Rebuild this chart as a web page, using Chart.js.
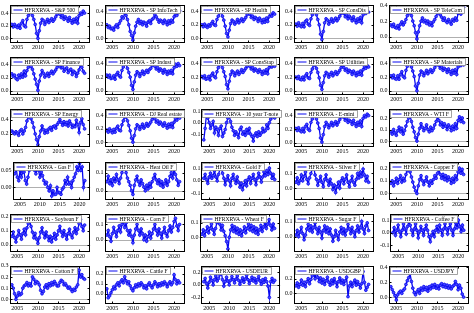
<!DOCTYPE html>
<html>
<head>
<meta charset="utf-8">
<script src="https://cdn.jsdelivr.net/npm/chart.js@4"></script>
<style>
  html, body { margin: 0; padding: 0; background: #fff; }
  #grid { position: relative; width: 474px; height: 313px; overflow: hidden; }
  #grid canvas { position: absolute; }
</style>
</head>
<body>
<div id="grid"></div>
<script>
// rolling correlation, one point every 4 months from mid 2003 to 2021
const firstYear = 2003.67;
const stepYears = 1 / 3;
const yearTicks = [2005, 2010, 2015, 2020];

const panelNames = [
    "S&P 500", "SP InfoTech", "SP Health", "SP ConsDis", "SP TeleCom",
    "SP Finance", "SP Indust", "SP ConsStap", "SP Utilities", "SP Materials",
    "SP Energy", "DJ Real estate", "10 year T-note", "E-mini", "WTI F",
    "Gas F", "Heat Oil F", "Gold F", "Silver F", "Copper F",
    "Soybean F", "Corn F", "Wheat F", "Sugar F", "Coffee F",
    "Cotton F", "Cattle F", "USDEUR", "USDGBP", "USDJPY"
];

const sp500 = [0.22, 0.18,0.22,0.19, 0.17,0.21,0.16, 0.24,0.28,0.20, 0.18,0.30,0.36, 0.40,0.43,0.36, 0.30,0.22,0.08, 0.00,0.12,0.24, 0.30,0.28,0.22, 0.26,0.30,0.25, 0.28,0.31,0.27, 0.30,0.34,0.38, 0.42,0.38,0.33, 0.36,0.30,0.34, 0.31,0.27,0.33, 0.28,0.24,0.30, 0.26,0.32,0.24, 0.36,0.40,0.38, 0.43,0.40];
const spInfoTech = [0.20, 0.16,0.18,0.14, 0.15,0.12,0.17, 0.20,0.16,0.22, 0.26,0.32,0.30, 0.38,0.34,0.28, 0.20,0.10,0.04, -0.03,0.08,0.18, 0.24,0.28,0.22, 0.25,0.20,0.24, 0.22,0.18,0.24, 0.26,0.22,0.28, 0.30,0.35,0.32, 0.28,0.24,0.27, 0.25,0.22,0.27, 0.24,0.20,0.26, 0.22,0.27,0.24, 0.32,0.35,0.34, 0.38,0.41];
const spHealth = [0.20, 0.17,0.21,0.18, 0.16,0.20,0.18, 0.22,0.25,0.20, 0.19,0.28,0.33, 0.38,0.40,0.33, 0.27,0.18,0.07, 0.02,0.12,0.22, 0.27,0.25,0.21, 0.24,0.28,0.23, 0.26,0.29,0.25, 0.28,0.31,0.35, 0.39,0.36,0.31, 0.33,0.28,0.31, 0.29,0.25,0.30, 0.27,0.23,0.28, 0.24,0.30,0.25, 0.32,0.36,0.33, 0.38,0.36];
const spConsDis = [0.21, 0.18,0.23,0.19, 0.17,0.22,0.17, 0.25,0.27,0.21, 0.19,0.29,0.35, 0.41,0.42,0.35, 0.28,0.20,0.06, -0.02,0.10,0.23, 0.29,0.27,0.21, 0.25,0.29,0.24, 0.27,0.30,0.26, 0.29,0.33,0.37, 0.41,0.37,0.32, 0.35,0.29,0.33, 0.30,0.26,0.32, 0.27,0.23,0.29, 0.25,0.31,0.23, 0.35,0.39,0.37, 0.42,0.39];
const spTeleCom = [0.15, 0.13,0.16,0.12, 0.11,0.14,0.10, 0.16,0.19,0.15, 0.18,0.22,0.27, 0.30,0.33,0.27, 0.20,0.14,0.05, -0.03,0.06,0.14, 0.20,0.24,0.19, 0.21,0.17,0.20, 0.15,0.18,0.14, 0.19,0.22,0.26, 0.30,0.33,0.28, 0.25,0.21,0.24, 0.20,0.18,0.22, 0.19,0.16,0.22, 0.20,0.24,0.21, 0.30,0.33,0.29, 0.35,0.38];
const spFinance = [0.26, 0.22,0.24,0.19, 0.17,0.24,0.20, 0.26,0.21,0.30, 0.23,0.31,0.36, 0.41,0.37,0.33, 0.26,0.18,0.10, 0.01,0.15,0.24, 0.31,0.27,0.21, 0.24,0.27,0.22, 0.27,0.30,0.26, 0.29,0.32,0.36, 0.40,0.38,0.35, 0.36,0.30,0.33, 0.35,0.28,0.31, 0.33,0.25,0.30, 0.28,0.22,0.27, 0.32,0.40,0.36, 0.30,0.27];
const spIndust = [0.23, 0.20,0.23,0.18, 0.19,0.22,0.17, 0.24,0.27,0.22, 0.20,0.30,0.35, 0.40,0.39,0.33, 0.27,0.20,0.08, 0.02,0.13,0.23, 0.28,0.26,0.21, 0.25,0.29,0.24, 0.27,0.30,0.27, 0.31,0.33,0.37, 0.40,0.36,0.32, 0.34,0.29,0.32, 0.30,0.26,0.31, 0.28,0.24,0.29, 0.26,0.30,0.25, 0.34,0.39,0.36, 0.40,0.37];
const spConsStap = [0.21, 0.19,0.22,0.17, 0.18,0.21,0.16, 0.23,0.26,0.21, 0.19,0.28,0.34, 0.38,0.40,0.34, 0.28,0.21,0.09, 0.03,0.14,0.24, 0.29,0.27,0.22, 0.26,0.29,0.24, 0.27,0.31,0.27, 0.30,0.33,0.36, 0.39,0.36,0.32, 0.34,0.29,0.32, 0.30,0.27,0.31, 0.28,0.24,0.29, 0.26,0.31,0.25, 0.34,0.37,0.35, 0.39,0.36];
const spUtilities = [0.20, 0.18,0.21,0.17, 0.16,0.20,0.16, 0.22,0.25,0.19, 0.18,0.27,0.32, 0.37,0.39,0.33, 0.27,0.19,0.08, 0.02,0.12,0.22, 0.27,0.25,0.20, 0.24,0.27,0.22, 0.25,0.28,0.24, 0.27,0.30,0.34, 0.37,0.34,0.30, 0.32,0.27,0.30, 0.28,0.24,0.29, 0.26,0.22,0.27, 0.24,0.29,0.23, 0.31,0.35,0.33, 0.37,0.35];
const spMaterials = [0.22, 0.19,0.23,0.18, 0.17,0.22,0.17, 0.24,0.28,0.21, 0.19,0.30,0.36, 0.41,0.42,0.35, 0.29,0.21,0.07, 0.00,0.11,0.23, 0.29,0.27,0.22, 0.26,0.30,0.25, 0.28,0.31,0.27, 0.30,0.34,0.38, 0.41,0.37,0.33, 0.35,0.30,0.33, 0.31,0.27,0.32, 0.28,0.24,0.30, 0.26,0.31,0.24, 0.35,0.39,0.37, 0.41,0.38];
const spEnergy = [0.24, 0.22,0.20,0.23, 0.21,0.18,0.24, 0.26,0.20,0.24, 0.29,0.38,0.43, 0.46,0.41,0.36, 0.29,0.20,0.12, 0.05,0.16,0.24, 0.31,0.26,0.21, 0.25,0.22,0.27, 0.29,0.25,0.30, 0.31,0.28,0.33, 0.36,0.40,0.36, 0.32,0.37,0.33, 0.36,0.31,0.38, 0.34,0.29,0.32, 0.30,0.39,0.33, 0.22,0.36,0.41, 0.33,0.27];
const djRealEstate = [0.18, 0.15,0.20,0.17, 0.14,0.19,0.15, 0.21,0.24,0.18, 0.17,0.26,0.32, 0.37,0.39,0.32, 0.25,0.17,0.06, 0.00,0.10,0.20, 0.26,0.24,0.19, 0.23,0.27,0.21, 0.24,0.28,0.24, 0.27,0.30,0.34, 0.38,0.35,0.30, 0.32,0.27,0.30, 0.27,0.24,0.29, 0.25,0.21,0.27, 0.23,0.28,0.22, 0.30,0.35,0.33, 0.38,0.36];
const tNote10y = [-0.15, -0.05,0.07,0.04, 0.00,-0.05,-0.02, 0.01,-0.09,-0.04, -0.06,-0.11,-0.05, -0.03,-0.12,-0.09, -0.06,0.00,0.04, 0.06,0.01,-0.04, -0.07,-0.11,-0.08, -0.10,-0.13,-0.06, -0.04,-0.10,-0.08, -0.11,-0.06,-0.09, -0.05,-0.10,-0.12, -0.16,-0.11,-0.09, -0.12,-0.08,-0.11, -0.09,-0.05,-0.08, -0.07,-0.02,-0.05, 0.00,0.03,0.05, 0.07,0.04];
const eMini = [0.21, 0.18,0.22,0.18, 0.16,0.21,0.16, 0.24,0.27,0.20, 0.18,0.30,0.35, 0.40,0.42,0.35, 0.29,0.21,0.07, 0.01,0.12,0.24, 0.30,0.27,0.22, 0.26,0.30,0.25, 0.28,0.31,0.26, 0.30,0.34,0.38, 0.41,0.37,0.33, 0.36,0.30,0.33, 0.31,0.27,0.33, 0.28,0.24,0.30, 0.26,0.32,0.24, 0.36,0.40,0.38, 0.42,0.40];
const wtiF = [0.08, 0.06,0.10,0.07, 0.05,0.09,0.12, 0.08,0.11,0.06, 0.09,0.13,0.17, 0.20,0.22,0.17, 0.12,0.08,0.03, 0.00,0.06,0.11, 0.15,0.12,0.09, 0.11,0.14,0.10, 0.08,0.12,0.09, 0.11,0.14,0.17, 0.21,0.18,0.14, 0.16,0.12,0.15, 0.13,0.10,0.14, 0.12,0.09,0.13, 0.10,0.15,0.11, 0.18,0.21,0.17, 0.20,0.16];
const gasF = [0.04, 0.06,0.03,0.02, 0.05,0.03,0.045, 0.045,0.02,0.01, 0.03,0.05,0.06, 0.07,0.06,0.05, 0.04,0.055,0.05, 0.03,0.045,0.035, 0.02,0.01,0.015, 0.00,-0.01,0.005, -0.025,-0.01,-0.02, -0.02,0.00,-0.015, -0.015,-0.02,-0.005, 0.00,0.02,0.01, 0.03,0.01,0.015, 0.00,0.02,0.03, 0.04,0.06,0.05, 0.07,0.05,0.06, 0.00,0.02];
const heatOilF = [0.05, 0.08,0.04,0.06, 0.03,0.07,0.05, 0.09,0.06,0.04, 0.07,0.10,0.12, 0.13,0.10,0.07, 0.05,0.03,0.00, -0.02,0.03,0.06, 0.08,0.05,0.03, 0.06,0.04,0.02, 0.00,0.03,0.01, 0.04,0.02,0.05, 0.07,0.09,0.06, 0.04,0.06,0.03, 0.05,0.02,0.04, 0.06,0.03,0.05, 0.08,0.10,0.07, 0.12,0.09,0.06, 0.03,0.05];
const goldF = [0.02, 0.05,0.01,-0.02, 0.03,0.06,0.02, 0.04,0.08,0.03, 0.00,0.05,0.09, 0.11,0.06,0.02, -0.03,0.01,0.04, 0.00,-0.04,0.02, 0.05,0.01,-0.02, 0.03,-0.01,-0.05, -0.02,-0.07,-0.03, 0.00,-0.04,0.01, 0.03,-0.02,0.02, 0.05,0.01,-0.03, 0.02,0.06,0.03, -0.01,0.03,0.07, 0.04,0.08,0.05, 0.10,0.06,0.02, 0.05,0.01];
const silverF = [0.04, 0.07,0.03,0.05, 0.09,0.05,0.08, 0.11,0.06,0.03, 0.07,0.10,0.13, 0.15,0.09,0.06, 0.02,0.05,0.08, 0.04,0.01,0.06, 0.09,0.05,0.02, 0.06,0.03,-0.01, 0.02,-0.03,0.01, 0.04,0.00,0.05, 0.07,0.03,0.06, 0.09,0.04,0.01, 0.05,0.08,0.04, 0.02,0.06,0.10, 0.07,0.11,0.08, 0.13,0.09,0.05, 0.08,0.04];
const copperF = [0.08, 0.10,0.06,0.09, 0.12,0.08,0.11, 0.14,0.09,0.12, 0.10,0.15,0.18, 0.21,0.17,0.13, 0.09,0.05,0.02, 0.00,0.06,0.11, 0.14,0.10,0.07, 0.10,0.13,0.09, 0.06,0.10,0.08, 0.11,0.14,0.12, 0.16,0.19,0.15, 0.12,0.15,0.11, 0.14,0.10,0.13, 0.11,0.08,0.12, 0.09,0.14,0.11, 0.17,0.20,0.16, 0.19,0.15];
const soybeanF = [0.06, 0.09,0.05,0.02, 0.06,0.10,0.07, 0.04,0.08,0.11, 0.07,0.12,0.15, 0.17,0.13,0.09, 0.05,0.08,0.04, 0.01,0.05,0.09, 0.12,0.08,0.05, 0.09,0.06,0.03, 0.06,0.02,0.05, 0.08,0.04,0.07, 0.10,0.13,0.09, 0.06,0.10,0.07, 0.04,0.08,0.11, 0.07,0.05,0.09, 0.12,0.08,0.11, 0.15,0.18,0.13, 0.10,0.14];
const cornF = [0.03, 0.06,0.02,-0.01, 0.04,0.08,0.05, 0.02,0.06,0.09, 0.05,0.10,0.12, 0.08,0.11,0.06, 0.03,0.06,0.02, -0.02,0.03,0.07, 0.10,0.06,0.03, 0.07,0.04,0.00, 0.03,-0.01,0.02, 0.05,0.01,0.04, 0.07,0.10,0.06, 0.03,0.07,0.04, 0.01,0.05,0.08, 0.04,0.02,0.06, 0.09,0.05,0.08, 0.12,0.14,0.09, 0.06,0.10];
const wheatF = [0.02, 0.05,0.01,0.04, 0.07,0.03,0.06, 0.09,0.05,0.02, 0.06,0.10,0.12, 0.09,0.05,0.08, 0.04,0.01,-0.03, -0.08,0.00,0.05, 0.08,0.04,0.07, 0.03,0.06,0.02, 0.05,0.01,0.04, 0.07,0.03,0.06, 0.09,0.05,0.08, 0.04,0.07,0.03, 0.06,0.02,0.05, 0.08,0.04,0.07, 0.10,0.06,0.09, 0.12,0.08,0.05, 0.09,0.06];
const sugarF = [0.01, 0.04,0.00,0.03, 0.06,0.02,-0.02, 0.01,0.05,0.08, 0.04,0.07,0.03, 0.06,0.09,0.05, 0.02,0.06,0.03, -0.01,0.04,0.07, 0.03,0.06,0.02, 0.05,0.01,-0.03, 0.00,0.04,0.01, -0.02,0.03,0.06, 0.02,0.05,0.01, 0.04,0.08,0.05, 0.02,0.06,0.03, 0.00,0.04,0.07, 0.03,0.06,0.10, 0.05,0.02,0.07, 0.09,0.04];
const coffeeF = [0.00, 0.04,-0.02,0.02, 0.06,0.01,-0.03, 0.02,0.07,0.03, -0.01,0.05,0.09, 0.06,0.02,-0.02, 0.03,0.07,0.02, -0.04,0.01,0.05, 0.02,-0.02,0.03, 0.06,0.02,-0.03, -0.07,-0.02,0.01, -0.03,0.02,0.05, 0.01,0.06,0.02, -0.02,0.03,0.07, 0.03,-0.01,0.04, 0.07,0.02,-0.02, 0.03,0.08,0.04, 0.10,0.05,0.01, 0.06,0.02];
const cottonF = [0.13, 0.10,0.05,0.00, 0.03,0.06,0.04, 0.05,0.10,0.12, 0.13,0.15,0.12, 0.14,0.12,0.20, 0.18,0.14,0.16, 0.15,0.13,0.08, 0.05,0.07,0.11, 0.13,0.10,0.14, 0.12,0.15,0.13, 0.16,0.14,0.12, 0.12,0.15,0.17, 0.16,0.13,0.14, 0.12,0.10,0.11, 0.09,0.07,0.09, 0.08,0.11,0.13, 0.26,0.20,0.22, 0.19,0.18];
const cattleF = [0.05, -0.04,-0.02,0.01, 0.04,0.07,0.05, 0.09,0.11,0.08, 0.12,0.14,0.11, 0.17,0.13,0.10, 0.12,0.08,0.05, 0.03,0.06,0.09, 0.07,0.10,0.08, 0.11,0.09,0.06, 0.08,0.05,0.09, 0.11,0.08,0.06, 0.09,0.12,0.10, 0.07,0.10,0.08, 0.11,0.09,0.12, 0.10,0.07,0.10, 0.12,0.09,0.11, 0.19,0.14,0.10, 0.13,0.11];
const usdEur = [0.05, 0.10,0.02,-0.05, 0.04,0.12,0.07, 0.00,0.08,0.14, 0.06,0.10,0.16, 0.20,0.08,-0.02, 0.05,0.12,0.06, 0.00,0.07,0.13, 0.08,0.03,0.09, 0.14,0.07,0.01, 0.06,0.11,0.04, 0.09,0.15,0.08, 0.02,0.07,0.12, 0.06,0.10,0.03, 0.08,0.13,0.06, 0.01,0.08,0.04, 0.10,0.05,-0.02, -0.20,0.05,0.10, 0.04,0.07];
const usdGbp = [0.10, 0.14,0.08,0.12, 0.18,0.11,0.15, 0.09,0.16,0.20, 0.13,0.19,0.24, 0.28,0.20,0.30, 0.22,0.16,0.21, 0.14,0.19,0.12, 0.17,0.22,0.15, 0.11,0.18,0.13, 0.20,0.15,0.09, 0.16,0.21,0.14, 0.18,0.12,0.17, 0.22,-0.05,0.10, 0.15,0.09,0.14, 0.18,0.11,0.16, 0.12,0.07,0.13, 0.30,0.15,0.04, 0.08,0.12];
const usdJpy = [0.14, 0.10,0.06,0.02, -0.04,0.03,0.06, 0.08,0.05,0.09, 0.11,0.17,0.22, 0.26,0.31,0.21, 0.12,0.06,0.03, 0.07,0.10,0.05, 0.12,0.09,0.14, 0.10,0.13,0.08, 0.14,0.11,0.16, 0.13,0.17,0.12, 0.15,0.11,0.16, 0.18,0.14,0.17, 0.13,0.16,0.12, 0.15,0.11,0.14, 0.16,0.21,0.17, 0.10,0.16,0.12, 0.04,0.00];

const panelSeries = [
    sp500, spInfoTech, spHealth, spConsDis, spTeleCom,
    spFinance, spIndust, spConsStap, spUtilities, spMaterials,
    spEnergy, djRealEstate, tNote10y, eMini, wtiF,
    gasF, heatOilF, goldF, silverF, copperF,
    soybeanF, cornF, wheatF, sugarF, coffeeF,
    cottonF, cattleF, usdEur, usdGbp, usdJpy
];

// y axis range, ticks and decimals of each panel
const panelMin = [-0.07, -0.07, -0.07, -0.07, -0.08, -0.06, -0.06, -0.06, -0.06, -0.06, 0.02, -0.07, -0.21, -0.06, -0.05, -0.036, -0.05, -0.15, -0.08, -0.05, -0.05, -0.08, -0.1, -0.1, -0.15, -0.04, -0.1, -0.3, -0.15, -0.09];
const panelMax = [0.53, 0.5, 0.5, 0.5, 0.41, 0.52, 0.5, 0.5, 0.5, 0.5, 0.55, 0.5, 0.12, 0.5, 0.28, 0.075, 0.16, 0.15, 0.18, 0.25, 0.22, 0.17, 0.16, 0.15, 0.15, 0.3, 0.28, 0.3, 0.38, 0.42];
const panelTicks = [
    [0, 0.2, 0.4], [0, 0.2, 0.4], [0, 0.2, 0.4], [0, 0.2, 0.4], [0, 0.2, 0.4],
    [0, 0.2, 0.4], [0, 0.2, 0.4], [0, 0.2, 0.4], [0, 0.2, 0.4], [0, 0.2, 0.4],
    [0.2, 0.4], [0, 0.2, 0.4], [-0.1, 0, 0.1], [0, 0.2, 0.4], [0, 0.1, 0.2],
    [0, 0.05], [0, 0.1], [-0.1, 0, 0.1], [0, 0.1], [0, 0.1, 0.2],
    [0, 0.1, 0.2], [0, 0.1], [0, 0.1], [0, 0.1], [-0.1, 0, 0.1],
    [0, 0.1, 0.2, 0.3], [0, 0.1, 0.2], [-0.2, 0, 0.2], [0, 0.2], [0, 0.2, 0.4]
];
const panelDecimals = [1,1,1,1,1, 1,1,1,1,1, 1,1,1,1,1, 2,1,1,1,1, 1,1,1,1,1, 1,1,1,1,1];

const lineBlue = "#0808f0";
const tickFont = { family: "'Liberation Serif', 'DejaVu Serif', serif", size: 6 };

const panelFrame = {
    id: "panelFrame",
    beforeDatasetsDraw(chart) {
        const { ctx, chartArea: a, scales } = chart;
        const y0 = scales.y.getPixelForValue(0);
        if (y0 > a.top && y0 < a.bottom) {
            ctx.save();
            ctx.strokeStyle = "#9a9a9a";
            ctx.lineWidth = 0.8;
            ctx.beginPath();
            ctx.moveTo(a.left, Math.round(y0) + 0.5);
            ctx.lineTo(a.right, Math.round(y0) + 0.5);
            ctx.stroke();
            ctx.restore();
        }
    },
    afterDraw(chart) {
        const { ctx, chartArea: a, scales } = chart;
        ctx.save();
        ctx.strokeStyle = "#000";
        ctx.lineWidth = 1;
        const l = Math.round(a.left) + 0.5, t = Math.round(a.top) + 0.5;
        const r = Math.round(a.right) - 0.5, b = Math.round(a.bottom) - 0.5;
        ctx.strokeRect(l, t, r - l, b - t);
        ctx.beginPath();
        scales.x.ticks.forEach(tk => {
            const px = Math.round(scales.x.getPixelForValue(tk.value)) + 0.5;
            ctx.moveTo(px, b); ctx.lineTo(px, b - 2);
            ctx.moveTo(px, t); ctx.lineTo(px, t + 2);
        });
        scales.y.ticks.forEach(tk => {
            const py = Math.round(scales.y.getPixelForValue(tk.value)) + 0.5;
            ctx.moveTo(l, py); ctx.lineTo(l + 2, py);
            ctx.moveTo(r, py); ctx.lineTo(r - 2, py);
        });
        ctx.stroke();

        // legend box in the upper left corner
        const text = chart.data.datasets[0].label;
        ctx.font = "5.6px 'Liberation Serif', 'DejaVu Serif', serif";
        const tw = ctx.measureText(text).width;
        const lx = l + 1, ly = t + 1, w = Math.round(tw + 16), h = 7;
        ctx.fillStyle = "#fff";
        ctx.fillRect(lx, ly, w, h);
        ctx.strokeStyle = "#8c8c8c";
        ctx.lineWidth = 0.8;
        ctx.strokeRect(lx, ly, w, h);
        ctx.strokeStyle = lineBlue;
        ctx.lineWidth = 1;
        ctx.beginPath();
        ctx.moveTo(lx + 2, ly + h / 2);
        ctx.lineTo(lx + 11, ly + h / 2);
        ctx.stroke();
        ctx.fillStyle = "#000";
        ctx.textBaseline = "middle";
        ctx.fillText(text, lx + 13, ly + h / 2 + 0.3);
        ctx.restore();
    }
};

const grid = document.getElementById("grid");

panelNames.forEach((name, k) => {
    const col = k % 5;
    const row = Math.floor(k / 5);
    const canvas = document.createElement("canvas");
    canvas.width = 95;
    canvas.height = 52;
    canvas.style.left = Math.round(col * 94.8) + "px";
    canvas.style.top = Math.round(row * 52.17) + "px";
    grid.appendChild(canvas);

    const values = panelSeries[k];
    const points = values.map((v, i) => ({ x: firstYear + i * stepYears, y: v }));

    new Chart(canvas, {
        type: "line",
        data: {
            datasets: [{
                label: "HFRXRVA - " + name,
                data: points,
                borderColor: lineBlue,
                borderWidth: 1.3,
                pointRadius: 1.4,
                pointBorderWidth: 0.8,
                pointBorderColor: lineBlue,
                pointBackgroundColor: "#4a4aff",
                tension: 0
            }]
        },
        options: {
            responsive: false,
            animation: false,
            devicePixelRatio: 1,
            layout: { padding: { top: 1, right: 2, left: 0, bottom: 0 } },
            plugins: {
                legend: { display: false },
                tooltip: { enabled: false }
            },
            scales: {
                x: {
                    type: "linear",
                    min: 2003.1,
                    max: 2022.7,
                    afterBuildTicks: s => { s.ticks = yearTicks.map(v => ({ value: v })); },
                    afterFit: s => { s.paddingLeft = 0; s.paddingRight = 0; },
                    ticks: {
                        callback: v => String(v),
                        font: tickFont,
                        color: "#000",
                        padding: 1,
                        maxRotation: 0,
                        autoSkip: false
                    },
                    grid: { display: false, drawTicks: false, tickLength: 0 },
                    border: { display: false }
                },
                y: {
                    min: panelMin[k],
                    max: panelMax[k],
                    afterBuildTicks: s => { s.ticks = panelTicks[k].map(v => ({ value: v })); },
                    afterFit: s => { s.paddingTop = 0; s.paddingBottom = 0; },
                    ticks: {
                        callback: v => v.toFixed(panelDecimals[k]),
                        font: tickFont,
                        color: "#000",
                        padding: 1
                    },
                    grid: { display: false, drawTicks: false, tickLength: 0 },
                    border: { display: false }
                }
            }
        },
        plugins: [panelFrame]
    });
});
</script>
</body>
</html>
